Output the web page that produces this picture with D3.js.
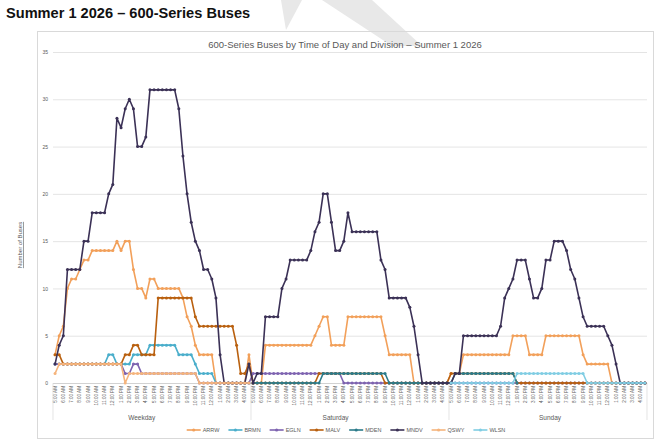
<!DOCTYPE html>
<html>
<head>
<meta charset="utf-8">
<script src="https://d3js.org/d3.v7.min.js"></script>
<style>
  body { margin: 0; background: #fff; }
  svg { display: block; font-family: Arial, "Liberation Sans", sans-serif; }
</style>
</head>
<body>
<svg id="viz" width="660" height="444"></svg>
<script>
// ---- categories ----
const days = ["Weekday", "Saturday", "Sunday"];
const hourLabels = ["5:00 AM", "6:00 AM", "7:00 AM", "8:00 AM", "9:00 AM", "10:00 AM", "11:00 AM",
  "12:00 PM", "1:00 PM", "2:00 PM", "3:00 PM", "4:00 PM", "5:00 PM", "6:00 PM", "7:00 PM", "8:00 PM",
  "9:00 PM", "10:00 PM", "11:00 PM", "12:00 AM", "1:00 AM", "2:00 AM", "3:00 AM", "4:00 AM"];
const divisions = ["ARRW", "BRMN", "EGLN", "MALV", "MDEN", "MNDV", "QSWY", "WLSN"];
const colors = ["#f2a05a", "#4aaecb", "#7e63b0", "#b9600f", "#2b7b8a", "#3b3156", "#f5b47c", "#80cde3"];

// ---- series values, half-hour slots, Weekday | Saturday | Sunday ----
const _ = null;
const ARRW = [
  3,5,6,10,11,11,12,13,13,14,14,14,   14,14,14,15,14,15,15,12,10,10,9,11,
  11,10,10,10,10,10,10,9,7,6,4,3,      3,3,3,0,0,0,0,0,0,0,0,3,
  0,0,0,4,4,4,4,4,4,4,4,4,             4,4,4,5,6,7,7,4,4,4,4,7,
  7,7,7,7,7,7,7,7,5,3,3,3,             3,3,3,0,0,0,0,0,0,0,0,0,
  1,1,1,3,3,3,3,3,3,3,3,3,             3,3,3,5,5,5,5,3,3,3,3,5,
  5,5,5,5,5,5,5,5,3,2,2,2,             2,2,2,0,0,0,0,0,0,0,0,0
];
const BRMN = [
  2,2,2,2,2,2,2,2,2,2,2,2,             2,3,3,2,2,2,2,3,3,3,3,4,
  4,4,4,4,4,4,3,3,3,3,2,1,             1,1,1,0,0,0,0,0,0,0,0,0,
  _,_,_,_,_,_,_,_,_,_,_,_,             _,_,_,_,_,_,_,_,_,_,_,_,
  _,_,_,_,_,_,_,_,_,_,_,_,             _,_,_,_,_,_,_,_,_,_,_,_,
  _,_,_,_,_,_,_,_,_,_,_,_,             _,_,_,_,_,_,_,_,_,_,_,_,
  _,_,_,_,_,_,_,_,_,_,_,_,             _,_,_,_,_,_,_,_,_,_,_,_
];
const EGLN = [
  2,2,2,2,2,2,2,2,2,2,2,2,             2,2,2,2,2,1,1,2,2,1,1,1,
  1,1,1,1,1,1,1,1,1,1,1,0,             0,0,0,0,0,0,0,0,0,0,0,0,
  1,1,1,1,1,1,1,1,1,1,1,1,             1,1,1,1,1,1,1,1,1,1,0,0,
  0,0,0,0,0,0,0,0,0,0,0,0,             0,0,0,0,0,0,0,0,0,0,0,0,
  0,0,0,0,0,0,0,0,0,0,0,0,             0,0,0,0,0,0,0,0,0,0,0,0,
  0,0,0,0,0,0,0,0,0,0,0,0,             0,0,0,0,0,0,0,0,0,0,0,0
];
const MALV = [
  3,3,2,2,2,2,2,2,2,2,2,2,             2,2,2,2,2,3,3,4,4,3,3,3,
  3,9,9,9,9,9,9,9,9,9,7,6,             6,6,6,6,6,6,6,6,4,1,1,2,
  0,0,0,0,0,0,0,0,0,0,0,0,             0,0,0,0,1,1,1,1,1,1,1,1,
  1,1,1,1,1,1,1,1,0,0,0,0,             0,0,0,0,0,0,0,0,0,0,0,0,
  1,1,1,1,1,1,1,1,1,1,1,1,             1,1,1,1,0,0,0,0,0,0,0,0,
  0,0,0,0,0,0,0,0,0,0,0,0,             0,0,0,0,0,0,0,0,0,0,0,0
];
const MDEN = [
  _,_,_,_,_,_,_,_,_,_,_,_,             _,_,_,_,_,_,_,_,_,_,_,_,
  _,_,_,_,_,_,_,_,_,_,_,_,             _,_,_,_,_,_,_,_,_,_,_,_,
  0,0,0,0,0,0,0,0,0,0,0,0,             0,0,0,0,0,1,1,1,1,1,1,1,
  1,1,1,1,1,1,1,1,1,0,0,0,             0,0,0,0,0,0,0,0,0,0,0,0,
  0,1,1,1,1,1,1,1,1,1,1,1,             1,1,1,1,0,_,_,_,_,_,_,_,
  _,_,_,_,_,_,_,_,_,_,_,_,             _,_,_,_,_,_,_,_,_,_,_,_
];
const MNDV = [
  2,4,5,12,12,12,12,15,15,18,18,18,    18,20,21,28,27,29,30,29,25,25,26,31,
  31,31,31,31,31,31,29,24,20,17,15,14, 12,12,11,9,3,0,0,0,0,0,0,2,
  0,1,1,7,7,7,7,10,11,13,13,13,        13,13,14,16,17,20,20,17,14,14,15,18,
  16,16,16,16,16,16,16,13,12,9,9,9,    9,9,8,6,3,0,0,0,0,0,0,0,
  0,1,1,5,5,5,5,5,5,5,5,5,             6,9,10,11,13,13,13,11,9,9,10,13,
  13,15,15,15,14,12,11,9,7,6,6,6,      6,6,5,4,2,0,0,0,0,0,0,0
];
const QSWY = [
  1,2,2,2,2,2,2,2,2,2,2,2,             2,2,2,2,2,0,1,1,1,1,1,1,
  1,1,1,1,1,1,1,1,1,1,1,0,             0,0,0,0,0,0,0,0,0,0,0,0,
  _,_,_,_,_,_,_,_,_,_,_,_,             _,_,_,_,_,_,_,_,_,_,_,_,
  _,_,_,_,_,_,_,_,_,_,_,_,             _,_,_,_,_,_,_,_,_,_,_,_,
  _,_,_,_,_,_,_,_,_,_,_,_,             _,_,_,_,_,_,_,_,_,_,_,_,
  _,_,_,_,_,_,_,_,_,_,_,_,             _,_,_,_,_,_,_,_,_,_,_,_
];
const WLSN = [
  _,_,_,_,_,_,_,_,_,_,_,_,             _,_,_,_,_,_,_,_,_,_,_,_,
  _,_,_,_,_,_,_,_,_,_,_,_,             _,_,_,_,_,_,_,_,_,_,_,_,
  _,_,_,_,_,_,_,_,_,_,_,_,             _,_,_,_,_,_,_,_,_,_,_,_,
  _,_,_,_,_,_,_,_,_,_,_,_,             _,_,_,_,_,_,_,_,_,_,_,_,
  0,0,0,0,0,0,0,0,0,0,0,0,             0,0,0,0,1,1,1,1,1,1,1,1,
  1,1,1,1,1,1,1,1,1,0,0,0,             0,0,0,0,0,0,0,0,0,0,0,0
];
const seriesValues = [ARRW, BRMN, EGLN, MALV, MDEN, MNDV, QSWY, WLSN];
const yTicks = [0, 5, 10, 15, 20, 25, 30, 35];

// half-hour slots: each hour label plus its :30 slot
const slots = hourLabels.flatMap(h => [h, h.replace(":00", ":30")]);
const categories = days.flatMap(d => slots.map(s => d + "|" + s));

const svg = d3.select("#viz");
const grey = "#595959";

// page header
svg.append("text")
  .attr("x", 6).attr("y", 18)
  .attr("font-size", 14.6).attr("font-weight", "bold").attr("fill", "#111")
  .text("Summer 1 2026 \u2013 600-Series Buses");

// watermark shape (light grey chevron)
svg.append("path")
  .attr("d", "M262,0 L302,0 L286,30 L281,0 Z M322,0 L372,0 L422,46 L392,46 Z")
  .attr("fill", "#e8e8e8");

// chart frame
svg.append("rect")
  .attr("x", 37.5).attr("y", 31.5).attr("width", 616).attr("height", 407)
  .attr("fill", "none").attr("stroke", "#d9d9d9");

svg.append("text")
  .attr("x", 345).attr("y", 48).attr("text-anchor", "middle")
  .attr("font-size", 9.5).attr("fill", grey)
  .text("600-Series Buses by Time of Day and Division \u2013 Summer 1 2026");

// scales
const x = d3.scaleBand().domain(categories).range([53, 647]);
const y = d3.scaleLinear().domain([0, 35]).range([383, 52]);
const cx = c => x(c) + x.bandwidth() / 2;

// grid + y labels
const yAxis = svg.append("g").attr("transform", "translate(53,0)")
  .call(d3.axisLeft(y).tickValues(yTicks).tickSize(-594).tickPadding(5));
yAxis.select(".domain").remove();
yAxis.selectAll(".tick line").attr("stroke", d => d === 0 ? "#bfbfbf" : "#d9d9d9").attr("stroke-width", 0.7);
yAxis.selectAll(".tick text").attr("fill", grey).attr("font-size", 5);

svg.append("text")
  .attr("transform", "translate(22,245) rotate(-90)")
  .attr("text-anchor", "middle").attr("font-size", 6).attr("fill", grey)
  .attr("text-decoration", "underline")
  .text("Number of Buses");

// x labels (hourly)
const xg = svg.append("g");
xg.selectAll("text.hour")
  .data(categories.filter(c => c.includes(":00")))
  .join("text")
  .attr("class", "hour")
  .attr("transform", c => `translate(${cx(c) + 1.6},386) rotate(-90)`)
  .attr("text-anchor", "end")
  .attr("font-size", 4.6).attr("fill", grey)
  .text(c => c.split("|")[1]);

// group separators and day labels
const dayStart = days.map(d => x(d + "|" + slots[0]));
const bounds = dayStart.concat([x.range()[1]]);
xg.selectAll("line.sep").data(bounds).join("line")
  .attr("x1", d => d).attr("x2", d => d)
  .attr("y1", 383).attr("y2", 420)
  .attr("stroke", "#d9d9d9").attr("stroke-width", 0.7);
const dayLabelSlot = [21, 20, 24];
xg.selectAll("text.day").data(days).join("text")
  .attr("x", (d, i) => cx(d + "|" + slots[dayLabelSlot[i]]))
  .attr("y", 420).attr("text-anchor", "middle")
  .attr("font-size", 6.5).attr("fill", grey)
  .text(d => d);

// lines
const line = d3.line()
  .defined(d => d.v != null)
  .x(d => cx(d.c)).y(d => y(d.v));

divisions.forEach((name, k) => {
  const pts = categories.map((c, i) => ({ c, v: seriesValues[k][i] }));
  const g = svg.append("g");
  g.append("path").datum(pts)
    .attr("d", line).attr("fill", "none")
    .attr("stroke", colors[k]).attr("stroke-width", 1.6)
    .attr("stroke-linejoin", "round");
  g.selectAll("circle").data(pts.filter(d => d.v != null)).join("circle")
    .attr("cx", d => cx(d.c)).attr("cy", d => y(d.v))
    .attr("r", 1.5).attr("fill", colors[k]);
});

// legend
const leg = svg.append("g");
let lx = 0;
divisions.forEach((name, k) => {
  const it = leg.append("g").attr("transform", `translate(${lx},0)`);
  it.append("line").attr("x1", 0).attr("x2", 14).attr("y1", 0).attr("y2", 0)
    .attr("stroke", colors[k]).attr("stroke-width", 1.6);
  it.append("circle").attr("cx", 7).attr("cy", 0).attr("r", 1.6).attr("fill", colors[k]);
  const t = it.append("text").attr("x", 16).attr("y", 2)
    .attr("font-size", 5.5).attr("fill", grey).text(name);
  lx += 16 + t.node().getComputedTextLength() + 9;
});
leg.attr("transform", `translate(${346 - (lx - 9) / 2},430)`);
</script>
</body>
</html>
